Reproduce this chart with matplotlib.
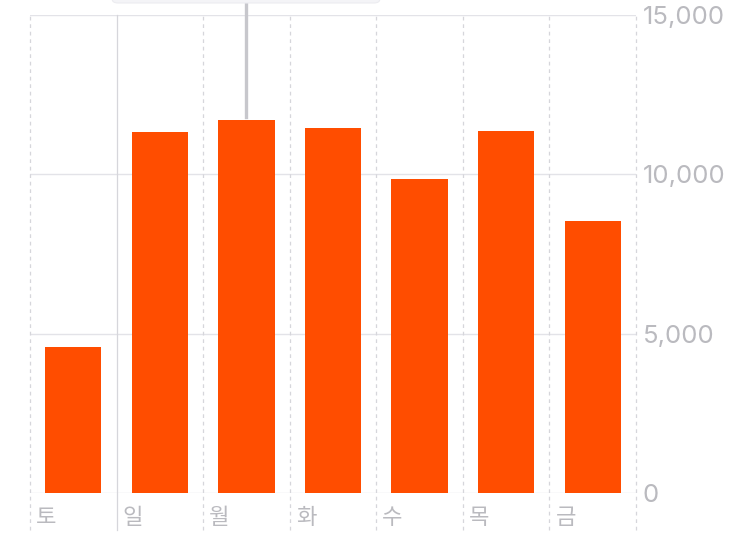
import matplotlib.pyplot as plt
from matplotlib.patches import FancyBboxPatch
import numpy as np

plt.rcParams['font.family'] = ['Noto Sans CJK KR', 'DejaVu Sans']

# daily step counts
days = ['토', '일', '월', '화', '수', '목', '금']
steps = [4580, 11330, 11710, 11460, 9860, 11360, 8520]
selected = 2
yticks = [0, 5000, 10000, 15000]
ytick_labels = ['0', '5,000', '10,000', '15,000']

bar_color = '#FF4D00'
grid_color = '#e3e3e8'
text_color = '#bababf'

fig = plt.figure(figsize=(7.43, 5.58), dpi=100)
ax = fig.add_axes([30 / 743, 65 / 558, 606 / 743, 478 / 558])

x = np.arange(len(days))
ax.bar(x, steps, width=0.65, color=bar_color, zorder=3)

ax.set_xlim(-0.5, len(days) - 0.5)
ax.set_ylim(0, 15000)

# horizontal grid
for v in yticks:
    ax.axhline(v, color=grid_color, lw=1.0, zorder=1)

# vertical column separators, going below the axis
for i in range(len(days) + 1):
    ls = '-' if i == 1 else (0, (3, 3))
    ax.plot([i - 0.5, i - 0.5], [-0.078, 1.0], transform=ax.get_xaxis_transform(),
            color='#d6d6db', lw=0.9, ls=ls, clip_on=False, zorder=1)

# day labels, left aligned in each column
for i, d in enumerate(days):
    ax.text(i - 0.43, -0.052, d, transform=ax.get_xaxis_transform(),
            ha='left', va='center', fontsize=16, color=text_color)

# selection indicator
ax.plot([selected, selected], [steps[selected] + 100, 15480], color='#c7c7cc',
        lw=2.4, clip_on=False, zorder=2)
fig.patches.append(FancyBboxPatch((112 / 743, 555 / 558), 268 / 743, 13 / 558,
                                  boxstyle='round,pad=0,rounding_size=0.008',
                                  transform=fig.transFigure, fc='#f4f4f7',
                                  ec='#ececf0', lw=0.8))

ax.yaxis.tick_right()
ax.set_yticks(yticks)
ax.set_yticklabels(ytick_labels, family='Inter')
ax.tick_params(axis='y', length=0, pad=5, labelsize=18.5, labelcolor=text_color)
ax.set_xticks([])
for s in ax.spines.values():
    s.set_visible(False)

fig.savefig('out.png', dpi=100)
